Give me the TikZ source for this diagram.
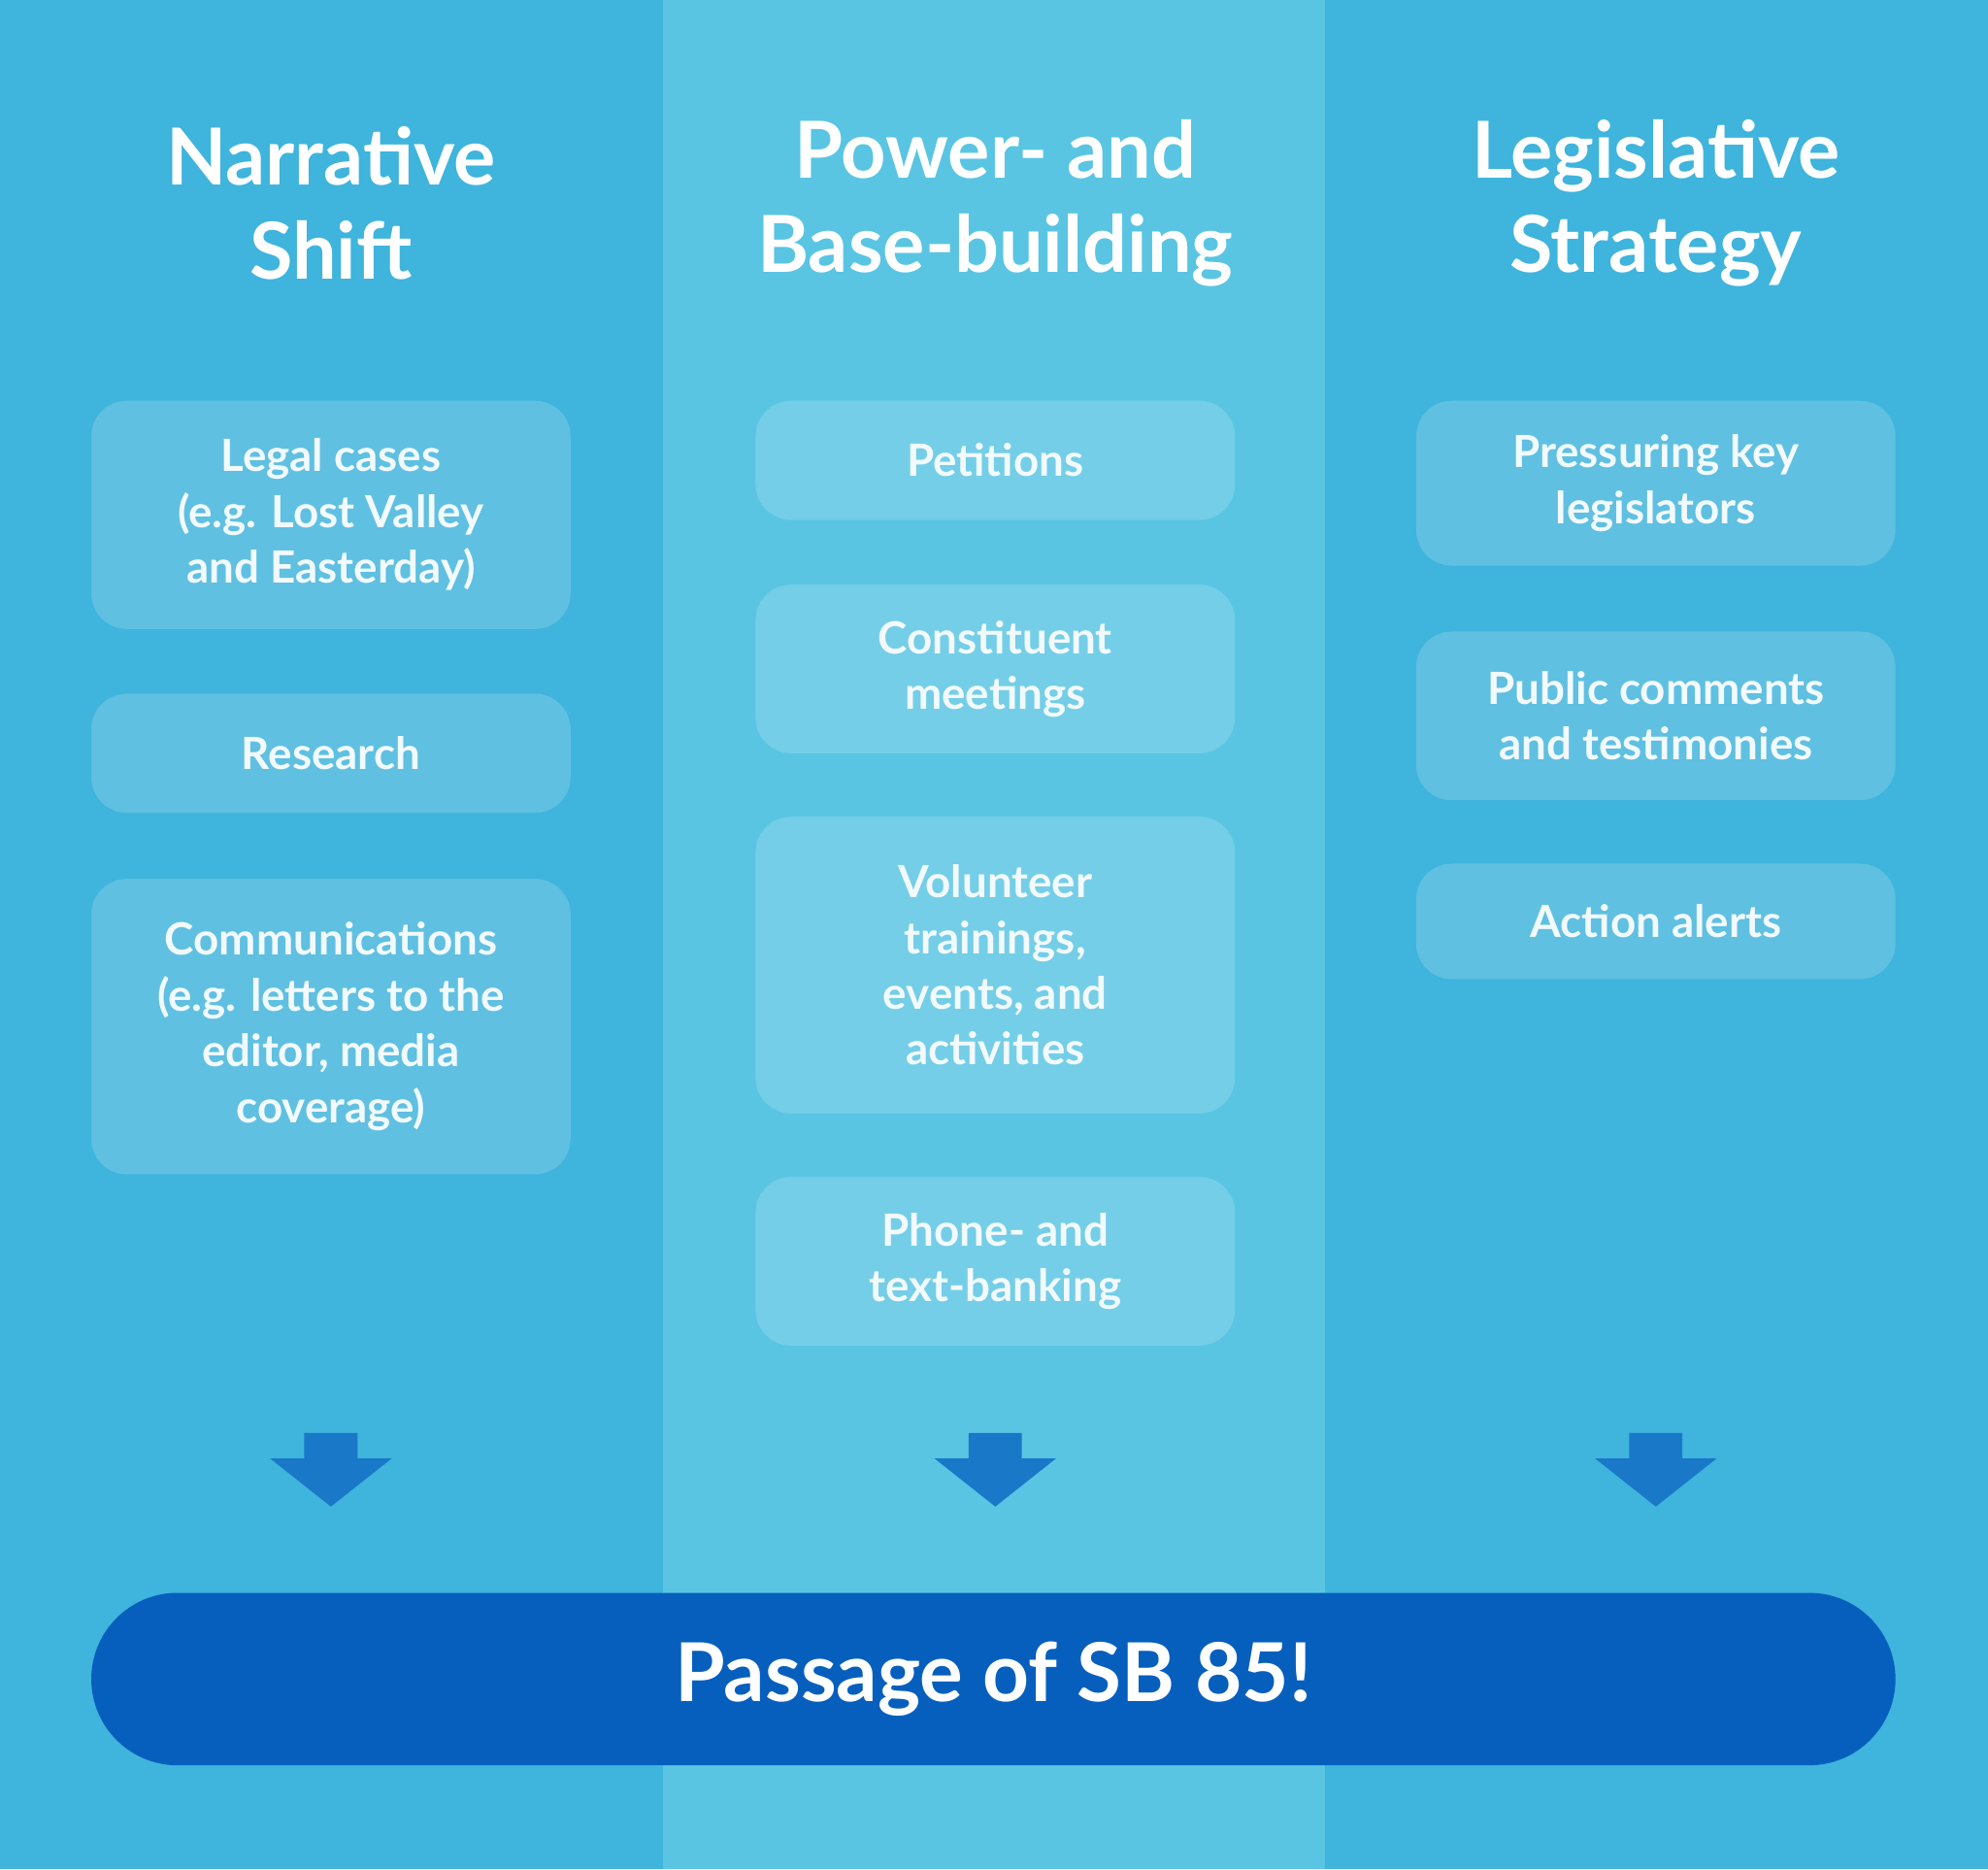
\documentclass[tikz,border=0pt]{standalone}
\usepackage{fontspec}
\setmainfont{Lato}
\definecolor{bgA}{HTML}{3FB4DC}
\definecolor{bgB}{HTML}{59C5E3}
\definecolor{arr}{HTML}{1A78C8}
\definecolor{bar}{HTML}{075FBD}
\definecolor{txt}{HTML}{F2FAFD}
\begin{document}
\begin{tikzpicture}[x=0.5pt,y=-0.5pt,
  box/.style={fill=white,fill opacity=0.17,text opacity=1,rounded corners=14pt,text=txt,
     font=\fontsize{17.5}{22}\selectfont\bfseries,align=center,minimum width=189pt,inner sep=0pt},
  title/.style={text=white,font=\fontsize{31}{37}\selectfont\bfseries,align=center},
  darr/.style={fill=arr}]
\useasboundingbox (0,0) rectangle (1568,1474);
\fill[bgA] (0,0) rectangle (1568,1474);
\fill[bgB] (523,0) rectangle (1045,1474);
% titles
\node[title] (t1) at (261,160) {Narrative\\Shift};
\node[title] (t2) at (785,160) {Power- and\\Base-building};
\node[title] (t3) at (1306,160) {Legislative\\Strategy};
% left
\node[box,minimum height=90pt] (l1) at (261,406) {Legal cases\\(e.g. Lost Valley\\and Easterday)};
\node[box,minimum height=47pt] (l2) at (261,594) {Research};
\node[box,minimum height=116.5pt] (l3) at (261,809.5) {Communications\\(e.g. letters to the\\editor, media\\coverage)};
% middle
\node[box,minimum height=47pt] (m1) at (785,363) {Petitions};
\node[box,minimum height=66.5pt] (m2) at (785,527.5) {Constituent\\meetings};
\node[box,minimum height=117pt] (m3) at (785,761) {Volunteer\\trainings,\\events, and\\activities};
\node[box,minimum height=66.5pt] (m4) at (785,994.5) {Phone- and\\text-banking};
% right
\node[box,minimum height=65pt] (r1) at (1306,381) {Pressuring key\\legislators};
\node[box,minimum height=66.5pt] (r2) at (1306,564.5) {Public comments\\and testimonies};
\node[box,minimum height=45.5pt] (r3) at (1306,726.5) {Action alerts};
% arrows
\foreach \c in {261,785,1306}{
  \fill[darr] (\c-21,1130) -- (\c+21,1130) -- (\c+21,1150) -- (\c+48,1150) -- (\c,1188) -- (\c-48,1150) -- (\c-21,1150) -- cycle;}
% bar
\node[fill=bar,rounded corners=34pt,minimum width=711.5pt,minimum height=68pt,text=white,
  font=\fontsize{32}{38}\selectfont\bfseries] (goal) at (783.5,1324) {Passage of SB 85!};
\end{tikzpicture}
\end{document}
